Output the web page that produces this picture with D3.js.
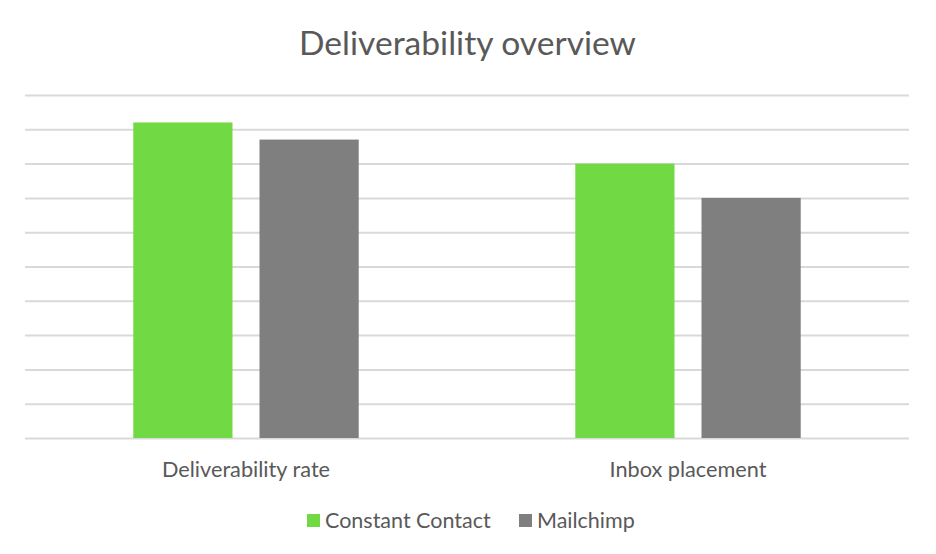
<!DOCTYPE html>
<html>
<head>
<meta charset="utf-8">
<script src="https://cdn.jsdelivr.net/npm/d3@7"></script>
<style>
  body { margin: 0; background: #fff; }
  text { font-family: Lato, "Open Sans", sans-serif; fill: #595959; }
</style>
</head>
<body>
<div id="chart"></div>
<script>
// data
var categories = ["Deliverability rate", "Inbox placement"];
var series = ["Constant Contact", "Mailchimp"];
var constantContact = [92, 80];
var mailchimp = [87, 70];
var yTicks = [0, 10, 20, 30, 40, 50, 60, 70, 80, 90, 100];
var colors = ["#70d944", "#7f7f7f"];

var width = 936, height = 554;
var plotLeft = 25, plotRight = 909, plotTop = 95, plotBottom = 438;

var svg = d3.select("#chart").append("svg")
  .attr("width", width)
  .attr("height", height);

svg.append("rect")
  .attr("width", width)
  .attr("height", height)
  .attr("fill", "#fff");

var x0 = d3.scaleBand()
  .domain(categories)
  .range([plotLeft, plotRight])
  .paddingInner(0.49)
  .paddingOuter(0.245);

var x1 = d3.scaleBand()
  .domain(series)
  .range([0, x0.bandwidth()])
  .paddingInner(0.214);

var y = d3.scaleLinear()
  .domain([0, 100])
  .range([plotBottom, plotTop]);

// gridlines
var yAxis = d3.axisLeft(y)
  .tickValues(yTicks)
  .tickSize(-(plotRight - plotLeft))
  .tickFormat("");

var g = svg.append("g")
  .attr("transform", "translate(" + plotLeft + ",0)")
  .call(yAxis);
g.select(".domain").remove();
g.selectAll(".tick line")
  .attr("stroke", "#d9d9d9")
  .attr("stroke-width", 2);

var rows = categories.map(function(c, i) {
  return { cat: c, vals: [constantContact[i], mailchimp[i]] };
});

var groups = svg.selectAll(".grp")
  .data(rows)
  .enter().append("g")
  .attr("transform", function(d) { return "translate(" + x0(d.cat) + ",0)"; });

groups.selectAll("rect")
  .data(function(d) { return d.vals.map(function(v, j) { return { s: series[j], v: v, j: j }; }); })
  .enter().append("rect")
  .attr("x", function(d) { return x1(d.s); })
  .attr("y", function(d) { return y(d.v); })
  .attr("width", x1.bandwidth())
  .attr("height", function(d) { return y(0) - y(d.v); })
  .attr("fill", function(d) { return colors[d.j]; });

// category axis
var xAxis = d3.axisBottom(x0).tickSize(0).tickPadding(0);
var xa = svg.append("g")
  .attr("transform", "translate(0," + plotBottom + ")")
  .call(xAxis);
xa.select(".domain").remove();
xa.selectAll("text")
  .attr("dy", null)
  .attr("y", 39)
  .style("font-family", "Lato, 'Open Sans', sans-serif")
  .style("font-size", "21.7px")
  .attr("fill", "#595959");

// title
svg.append("text")
  .attr("x", 467.5)
  .attr("y", 55)
  .attr("text-anchor", "middle")
  .style("font-size", "33.6px")
  .text("Deliverability overview");

// legend
var legendX = [307, 519];
var legend = svg.selectAll(".leg")
  .data(series)
  .enter().append("g")
  .attr("transform", function(d, i) { return "translate(" + legendX[i] + ",514)"; });

legend.append("rect")
  .attr("width", 13)
  .attr("height", 13)
  .attr("fill", function(d, i) { return colors[i]; });

legend.append("text")
  .attr("x", 18)
  .attr("y", 14)
  .style("font-size", "21.5px")
  .text(function(d) { return d; });
</script>
</body>
</html>
